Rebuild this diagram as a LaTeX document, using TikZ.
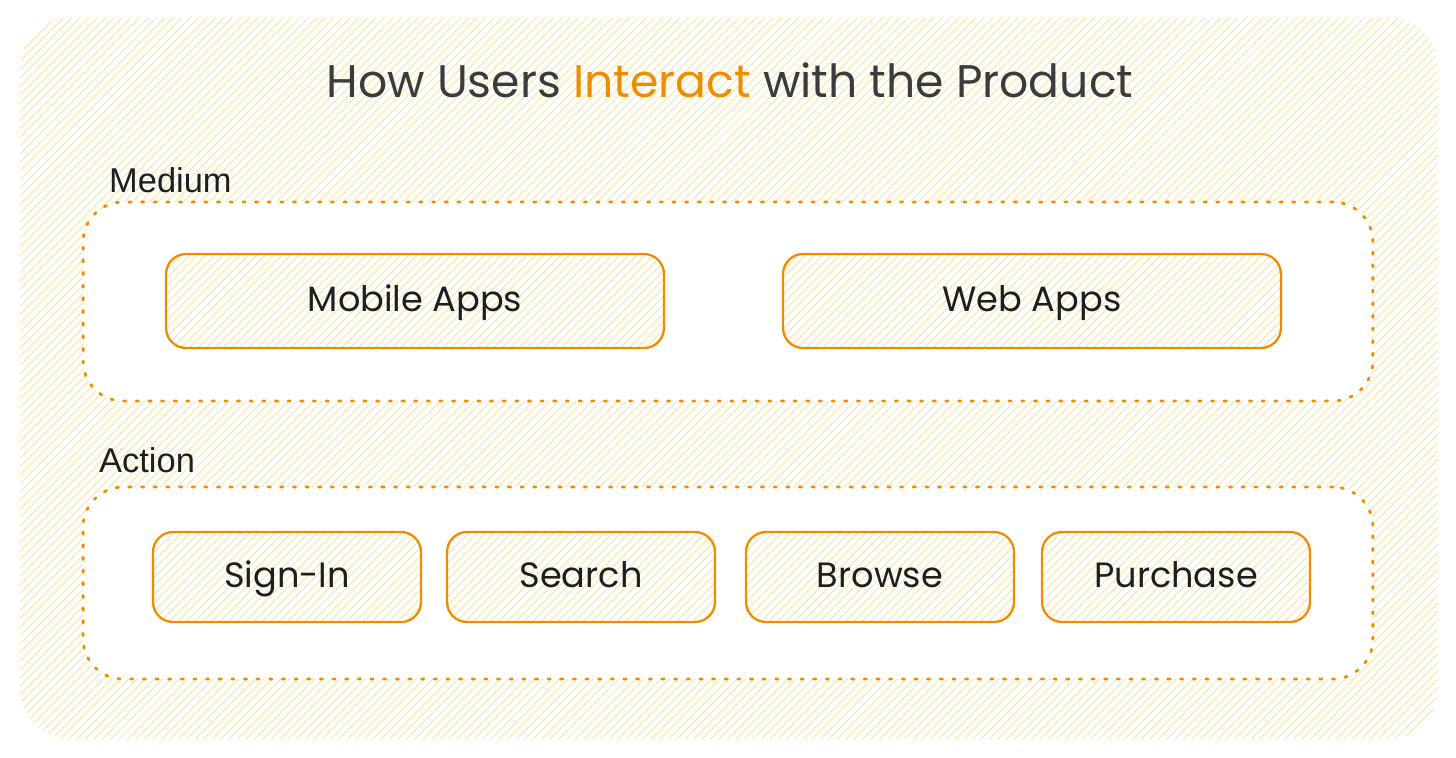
\documentclass[tikz,border=0pt]{standalone}
\usepackage{fontspec}
\usepackage{tikz}
\usetikzlibrary{positioning, patterns.meta}
\setmainfont{Liberation Sans}
\newfontfamily\handfont{Poppins}
\definecolor{Amber}{HTML}{F08C00}
\definecolor{Straw}{HTML}{F5E3A0}
\definecolor{Ink}{HTML}{1E1E1E}
\definecolor{Slate}{HTML}{3B3B3B}
\tikzset{
    hatched/.style={pattern={Lines[angle=45, distance=3.4pt, line width=0.5pt]}, pattern color=Straw},
    groupbox/.style={rectangle, rounded corners=0.8cm, fill=white, draw=Amber,
          line width=1.6pt, dash pattern=on 1.3pt off 5.9pt, line cap=round},
    appbox/.style={rectangle, rounded corners=0.4cm, draw=Amber, line width=1.3pt,
          hatched, text=Ink, text height=14pt, text depth=1.5pt,
          font=\handfont\fontsize{20}{24}\selectfont},
    grouplabel/.style={anchor=west, text=Ink, font=\fontsize{19.6}{23}\selectfont}
}
\begin{document}
\begin{tikzpicture}[x=0.02cm, y=-0.02cm]
    \useasboundingbox (0,0) rectangle (1456,757);

    % Panel
    \node[rectangle, rounded corners=1cm, hatched, minimum width=28.36cm,
          minimum height=14.44cm] (panel) at (729,378.5) {};
    \node[text=Slate, font=\handfont\fontsize{26}{30}\selectfont] (title) at (730,80)
        {How Users \textcolor{Amber}{Interact} with the Product};

    % Medium
    \node[grouplabel] (mediumlabel) at (103,180) {Medium};
    \node[groupbox, minimum width=25.8cm, minimum height=3.98cm] (medium) at (728,301.5) {};
    \node[appbox, minimum width=9.96cm, minimum height=1.88cm] (mobile) at (415,301) {Mobile Apps};
    \node[appbox, minimum width=9.96cm, minimum height=1.88cm] (web) at (1032,301) {Web Apps};

    % Action
    \node[grouplabel] (actionlabel) at (93,460) {Action};
    \node[groupbox, minimum width=25.8cm, minimum height=3.84cm] (action) at (728,583) {};
    \node[appbox, minimum width=5.36cm, minimum height=1.8cm] (signin) at (287,577) {Sign-In};
    \node[appbox, minimum width=5.36cm, minimum height=1.8cm] (search) at (581,577) {Search};
    \node[appbox, minimum width=5.36cm, minimum height=1.8cm] (browse) at (880,577) {Browse};
    \node[appbox, minimum width=5.36cm, minimum height=1.8cm] (purchase) at (1176,577) {Purchase};
\end{tikzpicture}
\end{document}
